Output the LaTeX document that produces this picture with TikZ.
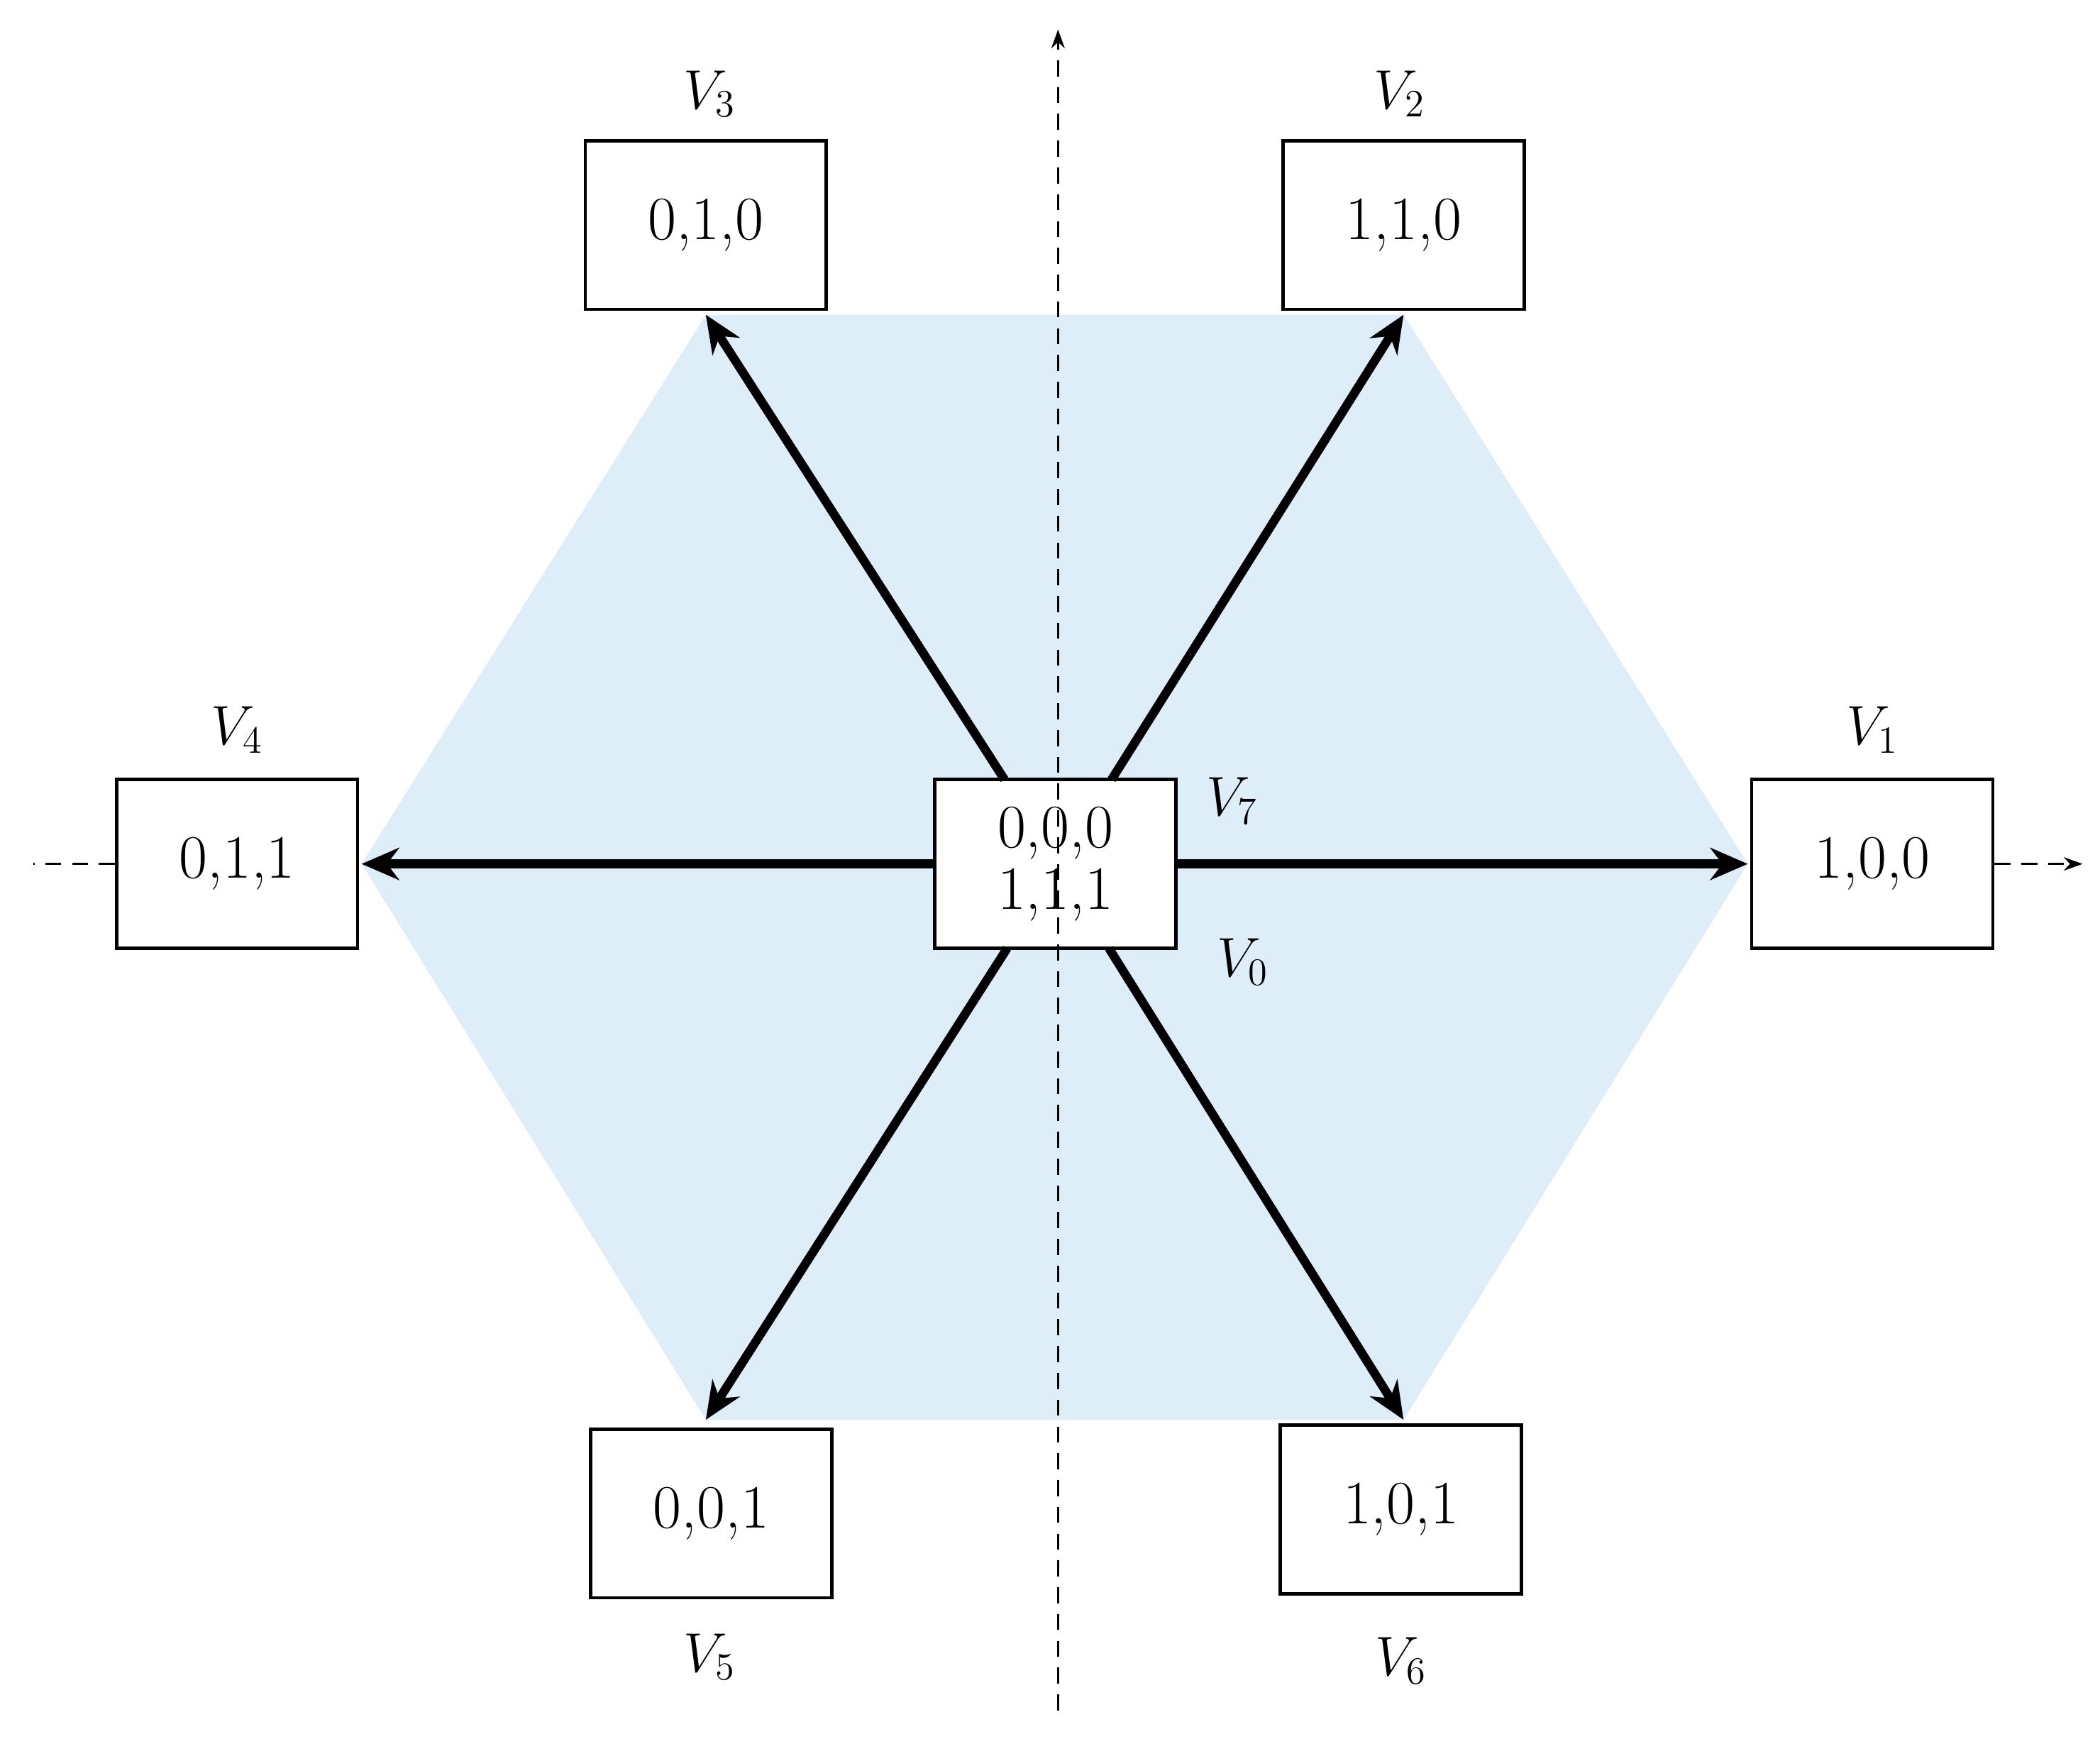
\documentclass[tikz,border=0pt]{standalone}
\usetikzlibrary{arrows.meta}
\begin{document}
\begin{tikzpicture}[x=0.5pt,y=-0.5pt,
  box/.style={draw,line width=1.2pt,fill=white,minimum width=90pt,minimum height=63pt,inner sep=0pt,font=\fontsize{23}{25}\selectfont,align=center},
  lab/.style={font=\fontsize{22}{24}\selectfont},
  vec/.style={line width=3.3pt,-{Stealth[length=14pt,width=12pt]}},
  axis/.style={dash pattern=on 6pt off 4pt,line width=0.9pt}]
\useasboundingbox (0,0) rectangle (1568,1298);
\coordinate (h1) at (1305,645); \coordinate (h2) at (1048,235);
\coordinate (h3) at (527,235); \coordinate (h4) at (270,645);
\coordinate (h5) at (527,1060); \coordinate (h6) at (1048,1060);
\fill[fill={rgb,255:red,221;green,238;blue,249}] (h1)--(h2)--(h3)--(h4)--(h5)--(h6)--cycle;
\node[box] (c) at (788,645) {0,0,0\\[-2pt]1,1,1};
\node[box] (b1) at (1398,645) {1,0,0};
\node[box] (b4) at (177,645) {0,1,1};
\node[box] (b3) at (527,168) {0,1,0};
\node[box] (b2) at (1048,168) {1,1,0};
\node[box] (b5) at (531,1130) {0,0,1};
\node[box] (b6) at (1046,1127) {1,0,1};
\coordinate (top) at (790,22); \coordinate (bot) at (790,1277);
\draw[axis,-{Stealth[length=7pt,width=5pt]}] (bot) -- (top);
\coordinate (lf) at (25,645); \coordinate (rt) at (1555,645);
\draw[axis] (b4.west) -- (lf);
\draw[axis,-{Stealth[length=7pt,width=5pt]}] (b1.east) -- (rt);
\coordinate (s3) at (750,582); \coordinate (s2) at (830,582);
\coordinate (s5) at (752,708); \coordinate (s6) at (828,708);
\draw[vec] (s3) -- (h3);
\draw[vec] (s2) -- (h2);
\draw[vec] (c.west) -- (h4);
\draw[vec] (c.east) -- (h1);
\draw[vec] (s5) -- (h5);
\draw[vec] (s6) -- (h6);
\node[lab] (l3) at (530,70) {$V_3$};
\node[lab] (l2) at (1045,70) {$V_2$};
\node[lab] (l4) at (177,545) {$V_4$};
\node[lab] (l1) at (1398,545) {$V_1$};
\node[lab] (l7) at (920,598) {$V_7$};
\node[lab] (l0) at (928,718) {$V_0$};
\node[lab] (l5) at (530,1237) {$V_5$};
\node[lab] (l6) at (1046,1240) {$V_6$};
\end{tikzpicture}
\end{document}
